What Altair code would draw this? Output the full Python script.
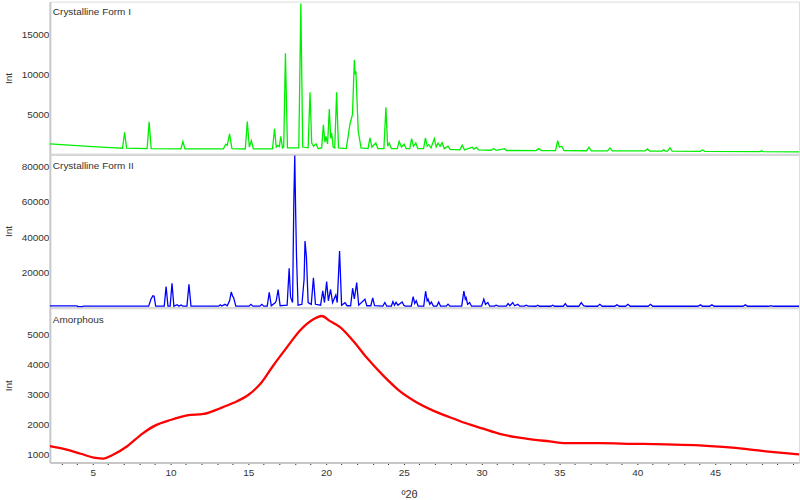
import altair as alt
import pandas as pd

# ---------------- data ----------------
x_domain = [2.25, 50.4]

# Crystalline Form I (green) : 2theta / intensity vertices
tt_form1 = [2.25, 3.5, 5.0, 6.5,
            6.92, 7.05, 7.18, 8.5, 8.63, 8.76, 10.67, 10.8, 10.93,
            13.4, 13.55, 13.65, 13.8, 13.95, 14.81, 14.94, 15.07, 15.2, 15.33,
            16.56, 16.69, 16.8, 16.9, 17.0, 17.09, 17.2, 17.28, 17.39, 17.52,
            18.25, 18.38, 18.5, 18.85, 18.97, 19.08, 19.2, 19.36, 19.5,
            19.72, 19.83, 19.93, 20.0, 20.1, 20.21, 20.3, 20.36, 20.46,
            20.56, 20.68, 20.8, 21.3, 21.54, 21.7, 21.82, 21.87, 21.92, 22.07, 22.25,
            22.7, 22.82, 22.95, 23.2, 23.33, 23.72, 23.85, 23.96, 24.06, 24.2,
            24.58, 24.7, 24.85, 25.02, 25.15, 25.38, 25.5, 25.62, 25.77, 25.9,
            26.27, 26.39, 26.5, 26.6, 26.75, 26.96, 27.08, 27.2, 27.33, 27.46, 27.6, 27.84, 27.97,
            28.6, 28.75, 28.9, 29.4, 29.5, 29.66, 29.8,
            30.6, 30.77, 30.95, 31.47, 31.6, 33.5, 33.67, 33.85,
            34.75, 34.89, 35.0, 35.15, 35.3, 36.75, 36.9, 37.05, 38.1, 38.25, 38.4,
            40.5, 40.66, 40.8, 41.6, 41.7, 41.8, 41.95, 42.1, 42.25,
            44.05, 44.2, 44.35, 47.9, 48.0, 48.1, 50.4]
int_form1 = [1300, 1150, 950, 800,
             750, 2750, 760, 700, 4050, 700, 680, 1600, 680,
             660, 1250, 1100, 2550, 700, 660, 4100, 900, 1700, 660,
             660, 3200, 900, 1100, 950, 2250, 800, 900, 12660, 800,
             800, 18900, 900, 800, 7750, 1400, 1000, 1300, 700,
             800, 3700, 1500, 2250, 1300, 5660, 2000, 2670, 900,
             800, 7750, 800, 700, 3790, 5000, 11830, 10000, 10400, 2875, 800,
             700, 2040, 900, 1410, 700, 700, 5875, 1000, 1400, 700,
             700, 1625, 900, 1250, 700, 700, 1960, 1000, 1410, 700,
             700, 2040, 1000, 1200, 800, 1960, 900, 1400, 1000, 1450, 700, 1000, 600,
             550, 1125, 550, 875, 650, 875, 550,
             500, 700, 480, 700, 470, 460, 700, 460,
             460, 1710, 900, 1000, 450, 440, 875, 430, 430, 790, 420,
             410, 660, 400, 400, 560, 400, 400, 790, 390,
             370, 530, 360, 320, 450, 320, 300]

# Crystalline Form II (blue)
tt_form2 = [2.25, 4.0, 4.05, 4.35, 4.4,
            8.6, 8.75, 8.87, 8.95, 9.05,
            9.6, 9.72, 9.84, 9.98, 10.1, 10.22, 10.43, 10.55, 10.68, 10.8,
            11.06, 11.19, 11.32,
            13.1, 13.2, 13.3, 13.5, 13.65, 13.8, 13.91, 14.0, 14.06, 14.2,
            15.05, 15.17, 15.3, 15.75, 15.87, 16.0,
            16.22, 16.35, 16.48, 16.73, 16.8, 16.92, 17.05,
            17.5, 17.63, 17.72, 17.85, 17.93, 17.99, 18.05, 18.1, 18.2,
            18.45, 18.59, 18.65, 18.74, 18.85, 19.05, 19.19, 19.32,
            19.65, 19.79, 19.9, 20.04, 20.15, 20.29, 20.42, 20.63, 20.72, 20.87, 21.0, 21.22, 21.35,
            21.58, 21.71, 21.82, 21.97, 22.1, 22.5, 22.62, 22.88, 23.0, 23.12,
            23.65, 23.78, 23.9, 24.2, 24.3, 24.4, 24.5, 24.62, 24.89, 25.0, 25.1,
            25.48, 25.6, 25.7, 25.8, 25.92,
            26.28, 26.4, 26.5, 26.56, 26.67, 26.77, 26.9, 27.12, 27.24, 27.36, 27.72, 27.84, 27.96,
            28.72, 28.86, 28.95, 29.0, 29.1, 29.23, 29.35,
            30.0, 30.14, 30.25, 30.4, 30.52, 30.82, 30.94, 31.06,
            31.58, 31.7, 31.82, 32.0, 32.12, 32.33, 32.45, 32.75, 32.87, 32.99,
            33.5, 33.61, 33.72, 34.45, 34.57, 34.69,
            35.25, 35.38, 35.5, 36.25, 36.4, 36.55, 36.7,
            37.45, 37.6, 37.75, 38.55, 38.7, 38.85, 39.25, 39.4, 39.55,
            40.7, 40.86, 41.0, 43.9, 44.07, 44.2, 44.65, 44.8, 44.95,
            46.8, 46.95, 47.1, 48.45, 48.6, 48.75, 50.4]
int_form2 = [1100, 1100, 700, 700, 1000,
             950, 5000, 6750, 6500, 950,
             950, 12000, 950, 950, 13900, 950, 1800, 950, 1600, 950,
             950, 13300, 950,
             950, 1700, 1000, 2000, 1200, 4000, 9000, 6500, 5800, 1000,
             950, 2000, 950, 950, 2000, 950,
             950, 8800, 1200, 2900, 4000, 10300, 1200,
             1500, 22350, 6000, 3000, 60000, 86000, 53000, 30000, 1500,
             2000, 16150, 37700, 28700, 3000, 2000, 17000, 2000,
             1500, 9600, 3000, 14800, 4000, 10500, 3000, 7300, 3000, 32100, 1500, 2900, 1200,
             1200, 11100, 5000, 14250, 1500, 4900, 1200, 1200, 5600, 1200,
             1000, 3000, 1000, 1000, 3550, 1500, 3200, 1500, 3300, 1500, 1000,
             1000, 6400, 2500, 4000, 1000,
             1000, 9400, 4000, 4900, 2000, 3300, 1000, 1000, 3300, 1000, 1000, 2080, 950,
             950, 9400, 5000, 5800, 2000, 3000, 950,
             950, 4900, 2000, 3000, 950, 950, 1500, 950,
             950, 2400, 1200, 3000, 1200, 2000, 950, 950, 1500, 950,
             900, 1500, 900, 900, 1500, 900,
             900, 2400, 900, 900, 3000, 1200, 900,
             900, 2000, 900, 900, 1700, 900, 900, 2000, 900,
             900, 2000, 900, 900, 1700, 900, 900, 1700, 900,
             900, 1700, 900, 900, 1300, 900, 900]

# Amorphous (red)
tt_amorph = [2.25, 3.27, 4.23, 5.19, 5.72, 6.25, 7.22, 8.18, 9.04, 10.0,
             11.07, 12.13, 13.2, 14.06, 15.0, 15.77, 16.6, 17.47, 18.33, 19.19,
             19.72, 20.26, 20.9, 21.75, 22.61, 23.68, 24.64, 25.81, 26.88, 27.95,
             29.0, 30.1, 31.15, 32.2, 33.3, 34.36, 35.4, 37.56, 39.7, 41.84,
             44.0, 46.1, 48.26, 50.4]
int_amorph = [1280, 1175, 1030, 890, 870, 980, 1280, 1690, 1970, 2150,
              2300, 2350, 2540, 2720, 2980, 3340, 3950, 4550, 5120, 5490,
              5600, 5430, 5230, 4770, 4220, 3620, 3150, 2740, 2460, 2240,
              2040, 1860, 1690, 1580, 1500, 1440, 1380, 1380, 1360, 1340,
              1310, 1230, 1110, 1010]

panel_titles = ["Crystalline Form I", "Crystalline Form II", "Amorphous"]
y_domains = [[0, 19125], [0, 86760], [740, 5870]]
y_ticks = [[5000, 10000, 15000], [20000, 40000, 60000, 80000], [1000, 2000, 3000, 4000, 5000]]
x_ticks = list(range(3, 51))

# ---------------- chart ----------------
FONT = "Liberation Sans"
TXT = "#333333"
AXIS_GRAY = "#c8c8c8"
PLOT_W = 751
HEIGHTS = [153, 154, 155]
TITLE_OFFS = [-15, -17, -17]


def panel(i, tt, inten, color, sw, bottom=False, interp="linear"):
    df = pd.DataFrame({"tt": tt, "I": inten})
    if bottom:
        xaxis = alt.Axis(values=x_ticks, labelExpr="datum.value % 5 === 0 && datum.value < 50 ? datum.label : ''",
                         title="º2θ", titleFont=FONT, titleFontSize=11, titleFontWeight="normal",
                         titleColor=TXT, titleAlign="left", titleX=352, titleY=35,
                         titleBaseline="alphabetic",
                         labelFont=FONT, labelFontSize=10, labelColor=TXT, labelPadding=3,
                         tickSize=2, tickColor="#222222", tickWidth=1,
                         domainColor=AXIS_GRAY, domainWidth=2, grid=False, labelFlush=False)
    else:
        xaxis = alt.Axis(labels=False, ticks=False, title=None, domainColor=AXIS_GRAY,
                         domainWidth=2, grid=False)
    yaxis = alt.Axis(values=y_ticks[i], title="Int", titleFont=FONT, titleFontSize=10,
                     titleFontWeight="normal", titleColor=TXT, titleX=-41, titleY=HEIGHTS[i] / 2,
                     titleAngle=-90, titleAlign="center", titleBaseline="middle",
                     labelFont=FONT, labelFontSize=10, labelColor=TXT, labelPadding=1,
                     ticks=False, domainColor=AXIS_GRAY, domainWidth=2, grid=False,
                     minExtent=44, maxExtent=44, format="d")
    return alt.Chart(df).mark_line(color=color, strokeWidth=sw, clip=True, interpolate=interp).encode(
        x=alt.X("tt:Q", scale=alt.Scale(domain=x_domain, nice=False, zero=False), axis=xaxis),
        y=alt.Y("I:Q", scale=alt.Scale(domain=y_domains[i], nice=False, zero=False), axis=yaxis),
    ).properties(
        width=PLOT_W, height=HEIGHTS[i],
        title=alt.TitleParams(panel_titles[i], anchor="start", frame="group", offset=TITLE_OFFS[i],
                              dx=3, font=FONT, fontSize=10, fontWeight="normal", color=TXT),
    )


p1 = panel(0, tt_form1, int_form1, "#00ee00", 1.3)
p2 = panel(1, tt_form2, int_form2, "#0000ff", 1.3)
p3 = panel(2, tt_amorph, int_amorph, "#ff0000", 2.3, bottom=True, interp="monotone")

chart = alt.vconcat(p1, p2, p3, spacing=0, bounds="flush").properties(
    padding={"left": 3, "top": 0, "right": 0, "bottom": 0}
).configure_view(stroke=None).configure(background="white")

chart.save("out.html", embed_options={"renderer": "svg", "actions": False})
